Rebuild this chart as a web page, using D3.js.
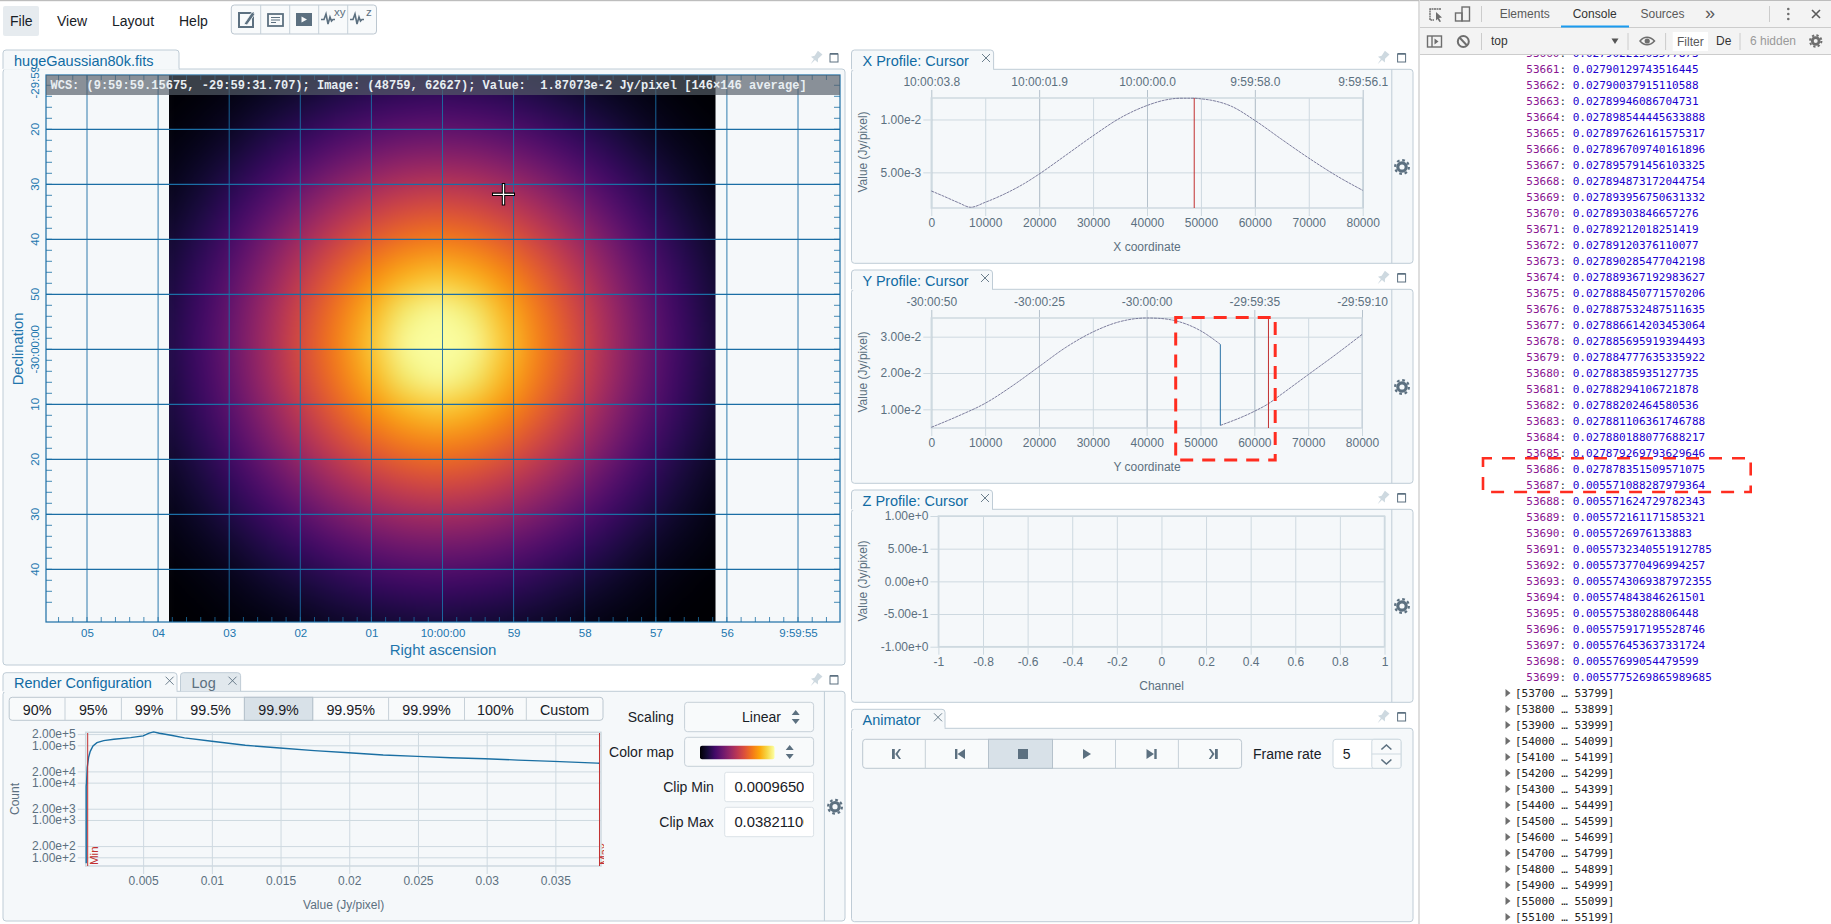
<!DOCTYPE html>
<html>
<head>
<meta charset="utf-8">
<title>hugeGaussian80k.fits</title>
<script src="https://cdnjs.cloudflare.com/ajax/libs/d3/7.8.5/d3.min.js"></script>
<style>
  html, body { margin: 0; background: #fff; overflow: hidden; }
  svg { display: block; }
  text { font-family: "Liberation Sans", Arial, sans-serif; }
  .axis text { font-size: 12px; fill: #5c7080; font-family: "Liberation Sans", Arial, sans-serif; }
  .axis .domain { display: none; }
  .axis line { stroke: #ced9e0; stroke-width: 1; }
  .axis.dark line { stroke: #b6c2cc; }
  .mono { font-family: "DejaVu Sans Mono", monospace; font-size: 11px; }
</style>
</head>
<body>
<svg id="page" width="1831" height="924"></svg>
<script>
// ---- image panel values (mJy/pixel, 5000 px apart)
const imageValues = [
  [0.7,1.1,1.7,2.4,3.1,3.9,4.6,5.0,5.2,5.0,4.6,3.9,3.1,2.4,1.7,1.1,0.7,0.41],
  [1.1,1.8,2.7,3.8,5.0,6.2,7.3,8.0,8.3,8.0,7.3,6.2,5.0,3.8,2.7,1.8,1.1,0.66],
  [1.7,2.7,4.0,5.7,7.5,9.4,10.9,12.0,12.4,12.0,10.9,9.4,7.5,5.7,4.0,2.7,1.7,0.99],
  [2.4,3.8,5.7,8.0,10.6,13.2,15.4,17.0,17.5,17.0,15.4,13.2,10.6,8.0,5.7,3.8,2.4,1.39],
  [3.1,5.0,7.5,10.6,14.1,17.5,20.2,22.1,22.8,22.1,20.2,17.5,14.1,10.6,7.5,5.0,3.1,1.84],
  [3.9,6.2,9.4,13.2,17.5,21.4,24.6,26.8,27.6,26.8,24.6,21.4,17.5,13.2,9.4,6.2,3.9,2.3],
  [4.6,7.3,10.9,15.4,20.2,24.6,28.6,31.8,33.2,31.8,28.6,24.6,20.2,15.4,10.9,7.3,4.6,2.68],
  [5.0,8.0,12.0,17.0,22.1,26.8,31.8,36.2,38.0,36.2,31.8,26.8,22.1,17.0,12.0,8.0,5.0,2.95],
  [5.2,8.3,12.4,17.5,22.8,27.6,33.2,38.0,41.0,38.0,33.2,27.6,22.8,17.5,12.4,8.3,5.2,3.04],
  [5.0,8.0,12.0,17.0,22.1,26.8,31.8,36.2,38.0,36.2,31.8,26.8,22.1,17.0,12.0,8.0,5.0,2.95],
  [4.6,7.3,10.9,15.4,20.2,24.6,28.6,31.8,33.2,31.8,28.6,24.6,20.2,15.4,10.9,7.3,4.6,2.68],
  [3.9,6.2,9.4,13.2,17.5,21.4,24.6,26.8,27.6,26.8,24.6,21.4,17.5,13.2,9.4,6.2,3.9,2.3],
  [3.1,5.0,7.5,10.6,14.1,17.5,20.2,22.1,22.8,22.1,20.2,17.5,14.1,10.6,7.5,5.0,3.1,1.84],
  [2.4,3.8,5.7,8.0,10.6,13.2,15.4,17.0,17.5,17.0,15.4,13.2,10.6,8.0,5.7,3.8,2.4,1.39],
  [1.7,2.7,4.0,5.7,7.5,9.4,10.9,12.0,12.4,12.0,10.9,9.4,7.5,5.7,4.0,2.7,1.7,0.99],
  [1.1,1.8,2.7,3.8,5.0,6.2,7.3,8.0,8.3,8.0,7.3,6.2,5.0,3.8,2.7,1.8,1.1,0.66],
  [0.7,1.1,1.7,2.4,3.1,3.9,4.6,5.0,5.2,5.0,4.6,3.9,3.1,2.4,1.7,1.1,0.7,0.41],
  [0.41,0.66,0.99,1.39,1.84,2.3,2.68,2.95,3.04,2.95,2.68,2.3,1.84,1.39,0.99,0.66,0.41,0.24]
];
const raTicks = [5, 4, 3, 2, 1, 0, -1, -2, -3, -4, -5];
const raLabels = ["05", "04", "03", "02", "01", "10:00:00", "59", "58", "57", "56", "9:59:55"];
const decTicks = [10, 20, 30, 40, 50, 60, 70, 80, 90, 100];
const decLabels = ["-29:59:10", "20", "30", "40", "50", "-30:00:00", "10", "20", "30", "40"];

// ---- X profile
const xProfileCoords = [0, 2500, 5000, 7300, 10000, 13600, 17300, 20000, 25000, 30000, 35200, 40000, 43200, 46300, 48759, 50000, 51900, 55600, 60000, 65000, 70000, 75000, 80000];
const xProfileValues = [0.00324, 0.0027, 0.00214, 0.0017, 0.00217, 0.00296, 0.00396, 0.00484, 0.00664, 0.00846, 0.01019, 0.01132, 0.01182, 0.01201, 0.01201, 0.01195, 0.01182, 0.01126, 0.00991, 0.00811, 0.00635, 0.00472, 0.0033];
const xBottomTicks = [0, 10000, 20000, 30000, 40000, 50000, 60000, 70000, 80000];
const xTopTicks = [0, 20000, 40000, 60000, 80000];
const xTopLabels = ["10:00:03.8", "10:00:01.9", "10:00:00.0", "9:59:58.0", "9:59:56.1"];
const xValueTicks = [0.01, 0.005];
const xValueLabels = ["1.00e-2", "5.00e-3"];

// ---- Y profile
const yProfileCoords = [0, 5000, 10000, 15000, 20000, 25000, 30000, 35000, 40000, 42200, 45000, 50000, 53686, 53687, 60000, 62627, 65000, 70000, 75000, 80000];
const yProfileValues = [0.00505, 0.00816, 0.01165, 0.0164, 0.02174, 0.02706, 0.03128, 0.03413, 0.03514, 0.03505, 0.0345, 0.03165, 0.02788, 0.00557, 0.00945, 0.01156, 0.0141, 0.01954, 0.02495, 0.0306];
const yTopLabels = ["-30:00:50", "-30:00:25", "-30:00:00", "-29:59:35", "-29:59:10"];
const yValueTicks = [0.03, 0.02, 0.01];
const yValueLabels = ["3.00e-2", "2.00e-2", "1.00e-2"];

// ---- Z profile (empty)
const zChannelTicks = [-1, -0.8, -0.6, -0.4, -0.2, 0, 0.2, 0.4, 0.6, 0.8, 1];
const zChannelLabels = ["-1", "-0.8", "-0.6", "-0.4", "-0.2", "0", "0.2", "0.4", "0.6", "0.8", "1"];
const zValueTicks = [1, 0.5, 0, -0.5, -1];
const zValueLabels = ["1.00e+0", "5.00e-1", "0.00e+0", "-5.00e-1", "-1.00e+0"];

// ---- histogram
const histValues = [0.000858, 0.000858, 0.000882, 0.000931, 0.00103, 0.00115, 0.00135, 0.00164, 0.00213, 0.00287, 0.00409, 0.005, 0.00544, 0.00576, 0.00618, 0.00703, 0.00801, 0.01, 0.01243, 0.01495, 0.01745, 0.01995, 0.02247, 0.02495, 0.02738, 0.02988, 0.03228, 0.03488, 0.03804, 0.0382];
const histCounts = [69, 8000, 10000, 25400, 47400, 68900, 95900, 118000, 133700, 145300, 161100, 178700, 210900, 229200, 210900, 186200, 157600, 128200, 100000, 84700, 71800, 63400, 54800, 50500, 46500, 43700, 40200, 37000, 33300, 33100];
const histXTicks = [0.005, 0.01, 0.015, 0.02, 0.025, 0.03, 0.035];
const histXLabels = ["0.005", "0.01", "0.015", "0.02", "0.025", "0.03", "0.035"];
const histYTicks = [200000, 100000, 20000, 10000, 2000, 1000, 200, 100];
const histYLabels = ["2.00e+5", "1.00e+5", "2.00e+4", "1.00e+4", "2.00e+3", "1.00e+3", "2.00e+2", "1.00e+2"];
const clipMin = 0.000965;
const clipMax = 0.03821;
const percentLabels = ["90%", "95%", "99%", "99.5%", "99.9%", "99.95%", "99.99%", "100%", "Custom"];

// ---- console
const consoleIndex = [53660, 53661, 53662, 53663, 53664, 53665, 53666, 53667, 53668, 53669, 53670, 53671, 53672, 53673, 53674, 53675, 53676, 53677, 53678, 53679, 53680, 53681, 53682, 53683, 53684, 53685, 53686, 53687, 53688, 53689, 53690, 53691, 53692, 53693, 53694, 53695, 53696, 53697, 53698, 53699];
const consoleValues = ["0.02790221563577873", "0.02790129743516445", "0.02790037915110588", "0.02789946086704731", "0.027898544445633888", "0.027897626161575317", "0.027896709740161896", "0.027895791456103325", "0.027894873172044754", "0.027893956750631332", "0.02789303846657276", "0.02789212018251419", "0.02789120376110077", "0.027890285477042198", "0.027889367192983627", "0.027888450771570206", "0.027887532487511635", "0.027886614203453064", "0.027885695919394493", "0.027884777635335922", "0.02788385935127735", "0.02788294106721878", "0.02788202464580536", "0.027881106361746788", "0.027880188077688217", "0.027879269793629646", "0.027878351509571075", "0.005571088287979364", "0.005571624729782343", "0.005572161171585321", "0.0055726976133883", "0.0055732340551912785", "0.005573770496994257", "0.0055743069387972355", "0.005574843846261501", "0.00557538028806448", "0.005575917195528746", "0.005576453637331724", "0.00557699054479599", "0.0055775269865989685"];
const consoleRanges = ["[53700 … 53799]", "[53800 … 53899]", "[53900 … 53999]", "[54000 … 54099]", "[54100 … 54199]", "[54200 … 54299]", "[54300 … 54399]", "[54400 … 54499]", "[54500 … 54599]", "[54600 … 54699]", "[54700 … 54799]", "[54800 … 54899]", "[54900 … 54999]", "[55000 … 55099]", "[55100 … 55199]"];

const svg = d3.select('#page');
const defs = svg.append('defs');

const BLUE = '#106ba3';
const GREY = '#5c7080';
const PANEL = '#f5f8fa';
const EDGE = '#bfccd6';
const RED = '#c23030';
const DASHRED = '#ff2d20';

function addClip(id, x, y, w, h) {
  defs.append('clipPath').attr('id', id).append('rect')
    .attr('x', x).attr('y', y).attr('width', w).attr('height', h);
}

function label(x, y, str, size, color, anchor) {
  return svg.append('text').attr('x', x).attr('y', y).attr('dy', '.35em')
    .attr('text-anchor', anchor || 'start')
    .style('font-size', size + 'px').style('fill', color).text(str);
}

function rotatedLabel(x, y, str, size, color) {
  return svg.append('text').attr('transform', `translate(${x},${y}) rotate(-90)`)
    .attr('text-anchor', 'middle').attr('dy', '.35em')
    .style('font-size', size + 'px').style('fill', color).text(str);
}

function gearIcon(x, y) {
  const g = svg.append('g').attr('transform', `translate(${x},${y})`);
  g.append('circle').attr('r', 6.9).attr('fill', 'none').attr('stroke', GREY)
    .attr('stroke-width', 2.2).attr('stroke-dasharray', '2.71 2.71');
  g.append('circle').attr('r', 4.2).attr('fill', 'none').attr('stroke', GREY).attr('stroke-width', 3.2);
}

function closeIcon(x, y) {
  svg.append('path').attr('d', `M${x - 4},${y - 4}L${x + 4},${y + 4}M${x + 4},${y - 4}L${x - 4},${y + 4}`)
    .attr('stroke', GREY).attr('stroke-width', 0.9).attr('fill', 'none');
}

function panelIcons(pinX, maxX, y) {
  svg.append('path').attr('transform', `translate(${pinX},${y}) rotate(40)`)
    .attr('d', 'M-3,-7H3L2.2,-1L4.5,2H0.7L0,8L-0.7,2H-4.5L-2.2,-1Z').attr('fill', '#ced9e0');
  svg.append('rect').attr('x', maxX - 4).attr('y', y - 4).attr('width', 8).attr('height', 8)
    .attr('fill', 'none').attr('stroke', GREY).attr('stroke-width', 1);
  svg.append('rect').attr('x', maxX - 4).attr('y', y - 5).attr('width', 8).attr('height', 1.5).attr('fill', GREY);
}

function panel(x0, y0, x1, y1, sepX) {
  svg.append('rect').attr('x', x0).attr('y', y0).attr('width', x1 - x0).attr('height', y1 - y0)
    .attr('rx', 3).attr('fill', PANEL).attr('stroke', EDGE);
  if (sepX) {
    svg.append('line').attr('x1', sepX).attr('x2', sepX).attr('y1', y0).attr('y2', y1).attr('stroke', EDGE);
  }
}

function tab(x0, x1, y0, y1, str, closeX, active) {
  svg.append('path').attr('d', `M${x0},${y1}V${y0 + 3}Q${x0},${y0} ${x0 + 3},${y0}H${x1 - 3}Q${x1},${y0} ${x1},${y0 + 3}V${y1}`)
    .attr('fill', active === false ? '#e1e8ed' : PANEL).attr('stroke', EDGE);
  if (active !== false) {
    svg.append('line').attr('x1', x0 + 0.5).attr('x2', x1 - 0.5).attr('y1', y1).attr('y2', y1).attr('stroke', PANEL).attr('stroke-width', 1.5);
  }
  label(x0 + 11, (y0 + y1) / 2 + 1, str, 14.5, active === false ? GREY : BLUE);
  if (closeX) closeIcon(closeX, y0 + 8);
}

function buttonGroup(x0, x1, y0, y1, seps) {
  svg.append('rect').attr('x', x0).attr('y', y0).attr('width', x1 - x0).attr('height', y1 - y0)
    .attr('rx', 3).attr('fill', '#f8fafb').attr('stroke', '#bcc7d0');
  seps.forEach(s => svg.append('line').attr('x1', s).attr('x2', s).attr('y1', y0).attr('y2', y1).attr('stroke', '#c6d0d8'));
}

// Draw one chart-style plot: grid, axes, border.
function drawPlot(o) {
  const w = o.x.range()[1] - o.x.range()[0];
  const h = o.y.range()[0] - o.y.range()[1];
  const left = o.x.range()[0];
  const top = o.y.range()[1];
  const bottom = o.y.range()[0];
  const g = svg.append('g');

  g.append('g').attr('class', 'axis').attr('transform', `translate(0,${bottom})`)
    .call(d3.axisBottom(o.x).tickValues(o.xTicks).tickSize(8).tickPadding(2.5)
      .tickFormat((d, i) => o.xLabels ? o.xLabels[i] : d))
    .selectAll('.tick line').attr('y1', -h);

  g.append('g').attr('class', 'axis').attr('transform', `translate(${left},0)`)
    .call(d3.axisLeft(o.y).tickValues(o.yTicks).tickSize(8).tickPadding(2)
      .tickFormat((d, i) => o.yLabels[i]))
    .selectAll('.tick line').attr('x1', w);

  if (o.topTicks) {
    g.append('g').attr('class', 'axis dark').attr('transform', `translate(0,${top})`)
      .call(d3.axisTop(o.x).tickValues(o.topTicks).tickSize(8).tickPadding(4)
        .tickFormat((d, i) => o.topLabels[i]))
      .selectAll('.tick line').attr('y1', h);
  }

  g.append('rect').attr('x', left).attr('y', top).attr('width', w).attr('height', h)
    .attr('fill', 'none').attr('stroke', '#ced9e0').attr('stroke-width', 1.5);
}

// ---- top strip and menu
svg.append('rect').attr('width', 1419).attr('height', 1.2).attr('fill', '#bdbdbd');
svg.append('rect').attr('x', 3).attr('y', 6).attr('width', 36).attr('height', 30).attr('rx', 2).attr('fill', '#e6ebef');
label(10, 21, 'File', 14, '#182026');
label(57, 21, 'View', 14, '#182026');
label(112, 21, 'Layout', 14, '#182026');
label(179, 21, 'Help', 14, '#182026');

buttonGroup(231.3, 376.5, 5, 34, [260.7, 289.7, 318.7, 347.7]);
svg.append('rect').attr('x', 239).attr('y', 13).attr('width', 14).attr('height', 14).attr('fill', 'none').attr('stroke', GREY).attr('stroke-width', 2);
svg.append('path').attr('d', 'M244,24L252,12L255,14L247,25Z').attr('fill', GREY).attr('stroke', '#f8fafb').attr('stroke-width', 0.8);
svg.append('rect').attr('x', 268).attr('y', 14).attr('width', 15).attr('height', 12).attr('fill', 'none').attr('stroke', GREY).attr('stroke-width', 1.8);
svg.append('path').attr('d', 'M271,17.5H280M271,20H280M271,22.5H276').attr('stroke', GREY).attr('stroke-width', 1);
svg.append('rect').attr('x', 296).attr('y', 13).attr('width', 16).attr('height', 13).attr('fill', GREY);
svg.append('path').attr('d', 'M301.5,16.5L307,19.5L301.5,22.5Z').attr('fill', '#f8fafb');
const wavePath = 'M0,6.5H3L5,1L7,11L9,4L10.5,8L12,6.5H14';
svg.append('path').attr('transform', 'translate(321,13)').attr('d', wavePath).attr('fill', 'none').attr('stroke', GREY).attr('stroke-width', 1.6);
svg.append('path').attr('transform', 'translate(350,13)').attr('d', wavePath).attr('fill', 'none').attr('stroke', GREY).attr('stroke-width', 1.6);
label(334, 12, 'xy', 11.5, GREY);
label(366, 12, 'z', 11.5, GREY);

// ---- image panel
panel(3, 69, 845, 665);
tab(3, 179, 50, 69, 'hugeGaussian80k.fits');
panelIcons(815.7, 834, 58);

const imgX0 = 169, imgX1 = 715.5, imgY0 = 75, imgY1 = 622;
const plotX0 = 46, plotX1 = 840;
const raScale = d3.scaleLinear().domain([5, -5]).range([87, 798]);
const decScale = d3.scaleLinear().domain([10, 100]).range([74.3, 569.3]);
const colorScale = d3.scaleSequential(d3.interpolateInferno).domain([0.965, 38.21]).clamp(true);

// Values go into a tiny canvas, one pixel per sample; the browser smooths it when scaled up.
const nCells = imageValues.length;
const sampleCanvas = document.createElement('canvas');
sampleCanvas.width = nCells;
sampleCanvas.height = nCells;
const ctx = sampleCanvas.getContext('2d');
imageValues.forEach((row, j) => row.forEach((v, i) => {
  ctx.fillStyle = colorScale(v);
  ctx.fillRect(i, j, 1, 1);
}));
addClip('imgClip', imgX0, imgY0, imgX1 - imgX0, imgY1 - imgY0);
const cellW = 34.16, cellH = 34.19;
const peakX = 437.5, peakY = 343;
// a light blur hides the kinks of the coarse sample grid
defs.append('filter').attr('id', 'soften').attr('color-interpolation-filters', 'sRGB')
  .attr('x', '-5%').attr('y', '-5%').attr('width', '110%').attr('height', '110%')
  .append('feGaussianBlur').attr('stdDeviation', 11);
svg.append('g').attr('clip-path', 'url(#imgClip)').append('image')
  .attr('href', sampleCanvas.toDataURL())
  .attr('x', peakX - 8.5 * cellW).attr('y', peakY - 8.5 * cellH)
  .attr('width', cellW * nCells).attr('height', cellH * nCells)
  .attr('preserveAspectRatio', 'none')
  .attr('filter', 'url(#soften)');

const GRID = '#1b6ea5';
const gridG = svg.append('g').attr('stroke', GRID).attr('fill', 'none');
gridG.selectAll('.raLine').data(raTicks).join('line').attr('class', 'raLine')
  .attr('x1', d => raScale(d)).attr('x2', d => raScale(d)).attr('y1', imgY0).attr('y2', imgY1).attr('stroke-width', 0.9);
gridG.selectAll('.decLine').data(decTicks.slice(1)).join('line').attr('class', 'decLine')
  .attr('y1', d => decScale(d)).attr('y2', d => decScale(d)).attr('x1', plotX0).attr('x2', plotX1).attr('stroke-width', 1.2);

// minor ticks on the frame, 5 per major step
const raMinor = d3.range(5.8, -6, -0.2).filter(d => raScale(d) > plotX0 && raScale(d) < plotX1);
const decMinor = d3.range(12, 108, 2);
gridG.selectAll('.raMinor').data(raMinor).join('path').attr('class', 'raMinor')
  .attr('d', d => `M${raScale(d)},${imgY1}v-5M${raScale(d)},${imgY0}v5`).attr('stroke-width', 0.8);
gridG.selectAll('.decMinor').data(decMinor.filter(d => decScale(d) < imgY1)).join('path').attr('class', 'decMinor')
  .attr('d', d => `M${plotX0},${decScale(d)}h6M${plotX1},${decScale(d)}h-6`).attr('stroke-width', 0.8);
svg.append('rect').attr('x', plotX0).attr('y', imgY0).attr('width', plotX1 - plotX0).attr('height', imgY1 - imgY0)
  .attr('fill', 'none').attr('stroke', GRID).attr('stroke-width', 1.2);

const raAxisG = svg.append('g').attr('class', 'axis imgAxis').attr('transform', `translate(0,${imgY1})`)
  .call(d3.axisBottom(raScale).tickValues(raTicks).tickSize(0).tickPadding(6.5).tickFormat((d, i) => raLabels[i]));
raAxisG.selectAll('text').style('fill', '#2176ae').style('font-size', '11.5px');

addClip('decClip', 20, 68, 30, 520);
const decAxisG = svg.append('g').attr('clip-path', 'url(#decClip)');
decAxisG.selectAll('text').data(decTicks).join('text')
  .attr('transform', d => `translate(35,${decScale(d)}) rotate(-90)`)
  .attr('text-anchor', 'middle').attr('dy', '.35em')
  .style('font-size', '11.5px').style('fill', '#2176ae')
  .text((d, i) => decLabels[i]);

label(443, 650, 'Right ascension', 15, '#1f75ac', 'middle');
rotatedLabel(17.5, 349, 'Declination', 14.7, '#1f75ac');

// coordinate readout bar
svg.append('rect').attr('x', plotX0).attr('y', imgY0).attr('width', plotX1 - plotX0).attr('height', 20)
  .attr('fill', 'rgba(85,95,105,0.68)');
svg.append('text').attr('x', 50.5).attr('y', 85).attr('dy', '.35em').attr('xml:space', 'preserve')
  .style('font-family', '"Liberation Mono", monospace').style('font-size', '12px').style('font-weight', 'bold')
  .style('fill', '#e8eef2').style('white-space', 'pre')
  .text('WCS: (9:59:59.15675, -29:59:31.707); Image: (48759, 62627); Value:  1.87073e-2 Jy/pixel [146×146 average]');

// cursor
svg.append('path').attr('d', 'M492,194.3H515M503.5,183V205.5').attr('stroke', '#000').attr('stroke-width', 3.4);
svg.append('path').attr('d', 'M493,194.3H514M503.5,184V204.5').attr('stroke', '#fff').attr('stroke-width', 1.3);

// ---- render configuration panel
panel(3, 691.3, 845, 921, 824.4);
tab(3, 177, 672.7, 691.3, 'Render Configuration', 169.6);
tab(180.5, 240.6, 672.7, 691.3, 'Log', 232.5, false);
panelIcons(815.7, 834, 680);
gearIcon(835, 806.7);

const pctSeps = [9.2, 65, 121.4, 176.7, 244.4, 312.7, 388.6, 464.5, 526.3, 603];
buttonGroup(9.2, 603, 697.3, 720.3, pctSeps.slice(1, -1));
svg.append('rect').attr('x', 244.4).attr('y', 697.3).attr('width', 68.3).attr('height', 23).attr('fill', '#d8e1e8').attr('stroke', '#b5c1cb');
percentLabels.forEach((p, i) => label((pctSeps[i] + pctSeps[i + 1]) / 2, 710, p, 14.3, '#182026', 'middle'));

const histX = d3.scaleLinear().domain([0.00082, 0.03832]).range([85.7, 601]);
const histY = d3.scaleLog().domain([58.5, 223000]).range([866, 732.3]);
drawPlot({ x: histX, y: histY, xTicks: histXTicks, xLabels: histXLabels, yTicks: histYTicks, yLabels: histYLabels });
svg.append('path').attr('d', d3.line().x((d, i) => histX(histValues[i])).y(d => histY(d))(histCounts))
  .attr('fill', 'none').attr('stroke', '#1a6fa3').attr('stroke-width', 1.4);
[clipMin, clipMax].forEach(v => {
  svg.append('line').attr('x1', histX(v)).attr('x2', histX(v)).attr('y1', 733).attr('y2', 866).attr('stroke', RED).attr('stroke-width', 1);
});
addClip('histLabelClip', 85, 732, 519, 134);
const histLabels = svg.append('g').attr('clip-path', 'url(#histLabelClip)');
[[97.5, 'Min'], [608, 'Max']].forEach(d => {
  histLabels.append('text').attr('transform', `translate(${d[0]},865) rotate(-90)`)
    .style('font-size', '11.5px').style('fill', RED).text(d[1]);
});
label(343.6, 905, 'Value (Jy/pixel)', 12, GREY, 'middle');
rotatedLabel(14.6, 799, 'Count', 12, GREY);

// scaling and colour map controls
label(673.7, 717, 'Scaling', 14, '#182026', 'end');
label(673.7, 752.3, 'Color map', 14, '#182026', 'end');
label(713.8, 787.3, 'Clip Min', 14, '#182026', 'end');
label(713.8, 821.7, 'Clip Max', 14, '#182026', 'end');

function selectBox(x0, x1, y0, y1) {
  svg.append('rect').attr('x', x0).attr('y', y0).attr('width', x1 - x0).attr('height', y1 - y0)
    .attr('rx', 3).attr('fill', '#f8fafb').attr('stroke', '#c6d0d8');
}
function doubleCaret(x, y) {
  svg.append('path').attr('d', `M${x - 4},${y - 2}L${x},${y - 7}L${x + 4},${y - 2}ZM${x - 4},${y + 2}L${x},${y + 7}L${x + 4},${y + 2}Z`).attr('fill', GREY);
}
selectBox(684.6, 813.6, 702.3, 731.7);
label(781, 717.5, 'Linear', 14, '#182026', 'end');
doubleCaret(795.7, 717);
selectBox(684.6, 813.6, 737.3, 766.3);
doubleCaret(789.7, 752);

const cmapGradient = defs.append('linearGradient').attr('id', 'cmap');
d3.range(0, 1.01, 0.1).forEach(t => {
  cmapGradient.append('stop').attr('offset', t).attr('stop-color', d3.interpolateInferno(t));
});
svg.append('rect').attr('x', 700).attr('y', 745.7).attr('width', 74.5).attr('height', 13.6).attr('rx', 2).attr('fill', 'url(#cmap)');

addClip('inputClip', 726, 772, 78, 66);
[[772.3, '0.0009650'], [807.3, '0.03821100']].forEach(d => {
  svg.append('rect').attr('x', 724.7).attr('y', d[0]).attr('width', 88.9).attr('height', 29.4).attr('rx', 2).attr('fill', '#fff').attr('stroke', '#dbe2e7');
  svg.append('text').attr('clip-path', 'url(#inputClip)').attr('x', 734.4).attr('y', d[0] + 15).attr('dy', '.35em')
    .style('font-size', '14.8px').style('fill', '#182026').text(d[1]);
});

// ---- X profile panel
const PROFILE_LINE = '#55557f';
panel(851.5, 69.3, 1413, 263.3, 1391.8);
tab(851.5, 993.6, 50, 69.3, 'X Profile: Cursor', 986);
panelIcons(1382.7, 1401.6, 58);
gearIcon(1402, 167);
const xProfX = d3.scaleLinear().domain([0, 80000]).range([931.3, 1362.7]);
const xProfY = d3.scaleLinear().domain([0.00163, 0.01203]).range([208, 98]);
drawPlot({ x: xProfX, y: xProfY, xTicks: xBottomTicks, yTicks: xValueTicks, yLabels: xValueLabels, topTicks: xTopTicks, topLabels: xTopLabels });
svg.append('path').attr('d', d3.line().curve(d3.curveMonotoneX).x(d => xProfX(d)).y((d, i) => xProfY(xProfileValues[i]))(xProfileCoords))
  .attr('fill', 'none').attr('stroke', PROFILE_LINE).attr('stroke-width', 0.75).attr('stroke-dasharray', '3 0.7');
svg.append('line').attr('x1', xProfX(48759)).attr('x2', xProfX(48759)).attr('y1', 98).attr('y2', 208).attr('stroke', RED).attr('stroke-width', 1);
label(1147, 246.7, 'X coordinate', 12, GREY, 'middle');
rotatedLabel(863, 152, 'Value (Jy/pixel)', 12, GREY);

// ---- Y profile panel
panel(851.5, 289.3, 1413, 483.3, 1391.8);
tab(851.5, 992.5, 270, 289.3, 'Y Profile: Cursor', 985);
panelIcons(1382.7, 1401.6, 278);
gearIcon(1402, 387);
const yProfX = d3.scaleLinear().domain([0, 80000]).range([931.3, 1362]);
const yProfY = d3.scaleLinear().domain([0.00486, 0.03514]).range([428, 318]);
drawPlot({ x: yProfX, y: yProfY, xTicks: xBottomTicks, yTicks: yValueTicks, yLabels: yValueLabels, topTicks: xTopTicks, topLabels: yTopLabels });
const yLine = d3.line().curve(d3.curveMonotoneX).x(d => yProfX(yProfileCoords[d])).y(d => yProfY(yProfileValues[d]));
const dropAt = yProfileCoords.indexOf(53686);
svg.append('path').attr('d', yLine(d3.range(0, dropAt + 1)))
  .attr('fill', 'none').attr('stroke', PROFILE_LINE).attr('stroke-width', 0.75).attr('stroke-dasharray', '3 0.7');
svg.append('path').attr('d', yLine([dropAt, dropAt + 1]))
  .attr('fill', 'none').attr('stroke', '#2b73a7').attr('stroke-width', 1);
svg.append('path').attr('d', yLine(d3.range(dropAt + 1, yProfileCoords.length)))
  .attr('fill', 'none').attr('stroke', PROFILE_LINE).attr('stroke-width', 0.75).attr('stroke-dasharray', '3 0.7');
svg.append('line').attr('x1', yProfX(62627)).attr('x2', yProfX(62627)).attr('y1', 318).attr('y2', 428).attr('stroke', RED).attr('stroke-width', 1);
label(1147, 466.7, 'Y coordinate', 12, GREY, 'middle');
rotatedLabel(863, 372, 'Value (Jy/pixel)', 12, GREY);
svg.append('rect').attr('x', 1175.7).attr('y', 317.5).attr('width', 99.5).attr('height', 142.5)
  .attr('fill', 'none').attr('stroke', DASHRED).attr('stroke-width', 3).attr('stroke-dasharray', '13 9').attr('stroke-dashoffset', 6);

// ---- Z profile panel
panel(851.5, 509.3, 1413, 702.3, 1391.8);
tab(851.5, 992.5, 490, 509.3, 'Z Profile: Cursor', 985);
panelIcons(1382.7, 1401.6, 498);
gearIcon(1402, 606);
const zX = d3.scaleLinear().domain([-1, 1]).range([938.4, 1384.5]);
const zY = d3.scaleLinear().domain([-1, 1]).range([646.7, 516]);
drawPlot({ x: zX, y: zY, xTicks: zChannelTicks, xLabels: zChannelLabels, yTicks: zValueTicks, yLabels: zValueLabels });
label(1161.6, 685.7, 'Channel', 12, GREY, 'middle');
rotatedLabel(863, 581, 'Value (Jy/pixel)', 12, GREY);

// ---- animator panel
panel(851.5, 728.3, 1413, 921.7);
tab(851.5, 945, 709.3, 728.3, 'Animator', 938);
panelIcons(1382.7, 1401.6, 717);
buttonGroup(862.7, 1241.6, 739.3, 768.3, [925.3, 988.5, 1052.5, 1115.5, 1178.4]);
svg.append('rect').attr('x', 988.5).attr('y', 739.3).attr('width', 64).attr('height', 29).attr('fill', '#d8e1e8').attr('stroke', '#b5c1cb');
const cy = 754;
svg.append('g').attr('fill', GREY).selectAll('path').data([
  `M892,${cy - 5}h2.8v10h-2.8ZM895.2,${cy}L899,${cy - 5}H901L897.6,${cy}L901,${cy + 5}H899Z`,
  `M955,${cy - 5}h2.4v10H955ZM965,${cy - 5}V${cy + 5}L957.5,${cy}Z`,
  `M1018,${cy - 5}h10v10h-10Z`,
  `M1083,${cy - 5}L1091,${cy}L1083,${cy + 5}Z`,
  `M1146.5,${cy - 5}L1154,${cy}L1146.5,${cy + 5}ZM1154.3,${cy - 5}h2.4v10h-2.4Z`,
  `M1215,${cy - 5}h2.8v10h-2.8ZM1214.6,${cy}L1210.8,${cy - 5}H1208.8L1212.2,${cy}L1208.8,${cy + 5}H1210.8Z`
]).join('path').attr('d', d => d);
label(1253, 754, 'Frame rate', 14, '#182026');
svg.append('rect').attr('x', 1333).attr('y', 739.3).attr('width', 68).attr('height', 29).attr('rx', 3).attr('fill', '#fff').attr('stroke', '#ced9e0');
svg.append('rect').attr('x', 1371.8).attr('y', 739.3).attr('width', 29.2).attr('height', 29).attr('rx', 2).attr('fill', '#f8fafb').attr('stroke', '#ced9e0');
svg.append('line').attr('x1', 1371.8).attr('x2', 1401).attr('y1', 754).attr('y2', 754).attr('stroke', '#ced9e0');
label(1342.7, 754, '5', 14, '#182026');
svg.append('path').attr('d', 'M1381.4,749.5L1386.4,745L1391.4,749.5M1381.4,759.5L1386.4,764L1391.4,759.5')
  .attr('fill', 'none').attr('stroke', GREY).attr('stroke-width', 1.6);

// ---- devtools console
svg.append('rect').attr('x', 1419).attr('y', 0).attr('width', 412).attr('height', 924).attr('fill', '#fff');
svg.append('line').attr('x1', 1419).attr('x2', 1419).attr('y1', 0).attr('y2', 924).attr('stroke', '#bdbdbd');

addClip('consoleClip', 1420, 54.5, 411, 870);
const rowY = d3.scaleLinear().domain([53661, 53699]).range([69, 677]);
const consoleG = svg.append('g').attr('clip-path', 'url(#consoleClip)');
const rows = consoleG.selectAll('g.row').data(consoleIndex).join('g').attr('class', 'row')
  .attr('transform', d => `translate(0,${rowY(d)})`);
rows.append('text').attr('class', 'mono').attr('x', 1526.3).attr('dy', '.35em').style('fill', '#881391').text(d => d);
rows.append('text').attr('class', 'mono').attr('x', 1559.4).attr('dy', '.35em').style('fill', '#303942').text(':');
rows.append('text').attr('class', 'mono').attr('x', 1572.7).attr('dy', '.35em').style('fill', '#1c00cf').text((d, i) => consoleValues[i]);

const rangeRows = consoleG.selectAll('g.range').data(consoleRanges).join('g').attr('class', 'range')
  .attr('transform', (d, i) => `translate(0,${rowY(53700 + i)})`);
rangeRows.append('path').attr('d', 'M1505.5,-4L1510.5,0L1505.5,4Z').attr('fill', '#6e6e6e');
rangeRows.append('text').attr('class', 'mono').attr('x', 1515).attr('dy', '.35em').style('fill', '#222').text(d => d);

svg.append('rect').attr('x', 1483).attr('y', 458.3).attr('width', 267.7).attr('height', 33.7)
  .attr('fill', 'none').attr('stroke', DASHRED).attr('stroke-width', 2.6).attr('stroke-dasharray', '13 10').attr('stroke-dashoffset', 4);

// devtools toolbars
svg.append('rect').attr('x', 1420).attr('y', 0).attr('width', 411).attr('height', 54.5).attr('fill', '#f3f3f3');
svg.append('rect').attr('x', 1420).attr('y', 0).attr('width', 411).attr('height', 1).attr('fill', '#bdbdbd');
svg.append('line').attr('x1', 1420).attr('x2', 1831).attr('y1', 27.5).attr('y2', 27.5).attr('stroke', '#ccc');
svg.append('line').attr('x1', 1420).attr('x2', 1831).attr('y1', 54.5).attr('y2', 54.5).attr('stroke', '#ccc');
svg.append('rect').attr('x', 1561).attr('y', 25.5).attr('width', 68).attr('height', 2).attr('fill', '#1a9bf0');
label(1499.7, 13.7, 'Elements', 12, '#5a5a5a');
label(1572.7, 13.7, 'Console', 12, '#333');
label(1640.5, 13.7, 'Sources', 12, '#5a5a5a');
label(1705, 13, '»', 18, '#5a5a5a');
label(1491, 41, 'top', 12, '#333');
label(1716, 41, 'De', 12, '#333');
label(1750, 41, '6 hidden', 12, '#9a9a9a');
svg.append('rect').attr('x', 1672.7).attr('y', 32).attr('width', 35.3).attr('height', 19).attr('fill', '#fff');
label(1677, 41.5, 'Filter', 12, '#5a5a5a');
[[1481.5, 6, 22], [1769.5, 6, 22], [1481.5, 33, 50], [1628, 33, 50], [1665.6, 33, 50], [1740, 33, 50]].forEach(d => {
  svg.append('line').attr('x1', d[0]).attr('x2', d[0]).attr('y1', d[1]).attr('y2', d[2]).attr('stroke', '#ccc');
});
const ICON = '#6e6e6e';
const devIcons = svg.append('g').attr('fill', 'none').attr('stroke', ICON).attr('stroke-width', 1.4);
devIcons.append('path').attr('d', 'M1441,9H1430V20H1434').attr('stroke-dasharray', '2 0.5');
devIcons.append('path').attr('d', 'M1436,12L1442,17.5L1439,18L1441,21.5L1439.5,22L1437.5,19L1436,20.5Z').attr('fill', ICON).attr('stroke', 'none');
devIcons.append('rect').attr('x', 1462).attr('y', 7).attr('width', 7.5).attr('height', 14);
devIcons.append('rect').attr('x', 1455.5).attr('y', 13).attr('width', 6.5).attr('height', 8);
devIcons.append('rect').attr('x', 1427.5).attr('y', 36).attr('width', 14).attr('height', 11);
devIcons.append('path').attr('d', 'M1432,36V47');
devIcons.append('path').attr('d', 'M1434.5,38.5L1438.5,41.5L1434.5,44.5Z').attr('fill', ICON).attr('stroke', 'none');
devIcons.append('circle').attr('cx', 1463.3).attr('cy', 41.5).attr('r', 5.5).attr('stroke-width', 2);
devIcons.append('path').attr('d', 'M1459.5,37.5L1467,45.5').attr('stroke-width', 2);
devIcons.append('path').attr('d', 'M1640,41C1644,36 1650,36 1654.5,41C1650,46 1644,46 1640,41Z').attr('stroke-width', 1.5);
devIcons.append('circle').attr('cx', 1647.2).attr('cy', 41).attr('r', 2.6).attr('fill', ICON).attr('stroke', 'none');
devIcons.append('path').attr('d', 'M1611.5,38.5H1618.5L1615,44Z').attr('fill', '#555').attr('stroke', 'none');
devIcons.append('path').attr('d', 'M1812,10L1820,18M1820,10L1812,18').attr('stroke-width', 1.6).attr('stroke', '#5a5a5a');
[9, 14, 19].forEach(y => devIcons.append('circle').attr('cx', 1788.3).attr('cy', y).attr('r', 1.3).attr('fill', ICON).attr('stroke', 'none'));
const devGear = devIcons.append('g').attr('transform', 'translate(1815.7,41)');
devGear.append('circle').attr('r', 5.7).attr('stroke-width', 2).attr('stroke-dasharray', '2.24 2.24');
devGear.append('circle').attr('r', 3.4).attr('stroke-width', 2.8);
</script>
</body>
</html>
